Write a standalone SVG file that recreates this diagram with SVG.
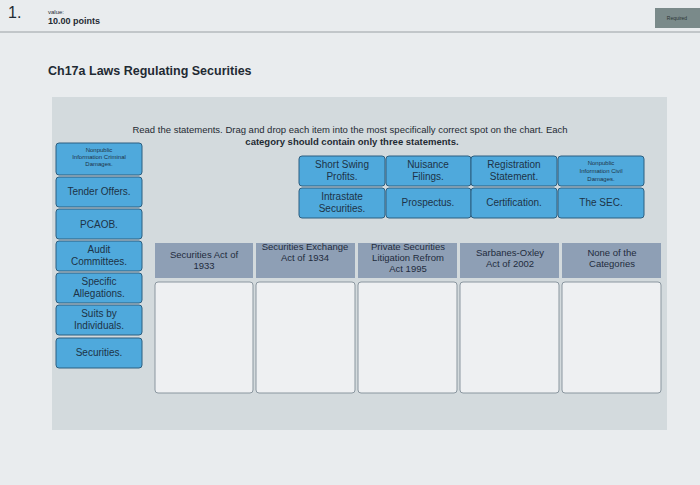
<svg xmlns="http://www.w3.org/2000/svg" width="700" height="485" viewBox="0 0 700 485">
<defs><style>
text{font-family:"Liberation Sans",Arial,sans-serif;fill:#1f2a33;text-anchor:middle}
.item rect{fill:#4fa9dc;stroke:#2d5f80;stroke-width:1}
.item text{font-size:10px;fill:#1d3347}
.hdr rect.h{fill:#8e9fb5}
.hdr text{font-size:9.5px;fill:#1f2c3d}
.hdr rect.box{fill:#eef0f2;stroke:#8a969f;stroke-width:1}
</style></defs>
<rect width="700" height="485" fill="#e9ecee"/>
<text x="8" y="18" style="font-size:16px;text-anchor:start">1.</text>
<text x="48" y="14" style="font-size:6px;text-anchor:start">value:</text>
<text x="48" y="24" style="font-size:9px;font-weight:bold;text-anchor:start">10.00 points</text>
<rect x="655" y="8" width="45" height="20" fill="#7a8a8a"/>
<text x="677" y="20" style="font-size:5px;fill:#2a3535">Required</text>
<line x1="0" y1="32" x2="700" y2="32" stroke="#9aa0a4"/>
<text x="48" y="75" style="font-size:12.5px;font-weight:bold;text-anchor:start">Ch17a Laws Regulating Securities</text>
<rect x="52" y="97" width="615" height="333" fill="#d3dadd"/>
<text x="350" y="133" style="font-size:9.5px">Read the statements. Drag and drop each item into the most specifically correct spot on the chart. Each</text>
<text x="352" y="145" style="font-size:9.5px;font-weight:bold">category should contain only three statements.</text>

<g id="i-npcrim" class="item"><rect x="56" y="143" width="86" height="32" rx="3"/><text x="99" y="152" style="font-size:6px">Nonpublic</text><text x="99" y="159" style="font-size:6px">Information Criminal</text><text x="99" y="166" style="font-size:6px">Damages.</text></g>
<g id="i-tender" class="item"><rect x="56" y="177" width="86" height="30" rx="3"/><text x="99" y="195">Tender Offers.</text></g>
<g id="i-pcaob" class="item"><rect x="56" y="209" width="86" height="30" rx="3"/><text x="99" y="228">PCAOB.</text></g>
<g id="i-audit" class="item"><rect x="56" y="241" width="86" height="30" rx="3"/><text x="99" y="253">Audit</text><text x="99" y="265">Committees.</text></g>
<g id="i-specific" class="item"><rect x="56" y="273" width="86" height="30" rx="3"/><text x="99" y="285">Specific</text><text x="99" y="297">Allegations.</text></g>
<g id="i-suits" class="item"><rect x="56" y="305" width="86" height="30" rx="3"/><text x="99" y="317">Suits by</text><text x="99" y="329">Individuals.</text></g>
<g id="i-securities" class="item"><rect x="56" y="338" width="86" height="30" rx="3"/><text x="99" y="356">Securities.</text></g>

<g id="i-short" class="item"><rect x="299" y="156" width="86" height="30" rx="3"/><text x="342" y="168">Short Swing</text><text x="342" y="180">Profits.</text></g>
<g id="i-nuisance" class="item"><rect x="386" y="156" width="85" height="30" rx="3"/><text x="428" y="168">Nuisance</text><text x="428" y="180">Filings.</text></g>
<g id="i-reg" class="item"><rect x="471" y="156" width="86" height="30" rx="3"/><text x="514" y="168">Registration</text><text x="514" y="180">Statement.</text></g>
<g id="i-npcivil" class="item"><rect x="558" y="156" width="86" height="30" rx="3"/><text x="601" y="165" style="font-size:6px">Nonpublic</text><text x="601" y="173" style="font-size:6px">Information Civil</text><text x="601" y="181" style="font-size:6px">Damages.</text></g>
<g id="i-intra" class="item"><rect x="299" y="188" width="86" height="30" rx="3"/><text x="342" y="200">Intrastate</text><text x="342" y="212">Securities.</text></g>
<g id="i-prosp" class="item"><rect x="386" y="188" width="85" height="30" rx="3"/><text x="428" y="206">Prospectus.</text></g>
<g id="i-cert" class="item"><rect x="471" y="188" width="86" height="30" rx="3"/><text x="514" y="206">Certification.</text></g>
<g id="i-sec" class="item"><rect x="558" y="188" width="86" height="30" rx="3"/><text x="601" y="206">The SEC.</text></g>

<g id="c-1933" class="hdr"><rect class="h" x="155" y="243" width="98" height="35"/><text x="204" y="258">Securities Act of</text><text x="204" y="269">1933</text><rect class="box" x="155" y="282" width="98" height="111" rx="3"/></g>
<g id="c-1934" class="hdr"><rect class="h" x="256" y="243" width="99" height="35"/><text x="305" y="250">Securities  Exchange</text><text x="305" y="261">Act of 1934</text><rect class="box" x="256" y="282" width="99" height="111" rx="3"/></g>
<g id="c-1995" class="hdr"><rect class="h" x="358" y="243" width="99" height="35"/><text x="408" y="250">Private Securities</text><text x="408" y="261">Litigation Refrom</text><text x="408" y="272">Act 1995</text><rect class="box" x="358" y="282" width="99" height="111" rx="3"/></g>
<g id="c-2002" class="hdr"><rect class="h" x="460" y="243" width="99" height="35"/><text x="510" y="256">Sarbanes-Oxley</text><text x="510" y="267">Act of 2002</text><rect class="box" x="460" y="282" width="99" height="111" rx="3"/></g>
<g id="c-none" class="hdr"><rect class="h" x="562" y="243" width="99" height="35"/><text x="612" y="256">None of the</text><text x="612" y="267">Categories</text><rect class="box" x="562" y="282" width="99" height="111" rx="3"/></g>
<g id="connectors"/>
</svg>
